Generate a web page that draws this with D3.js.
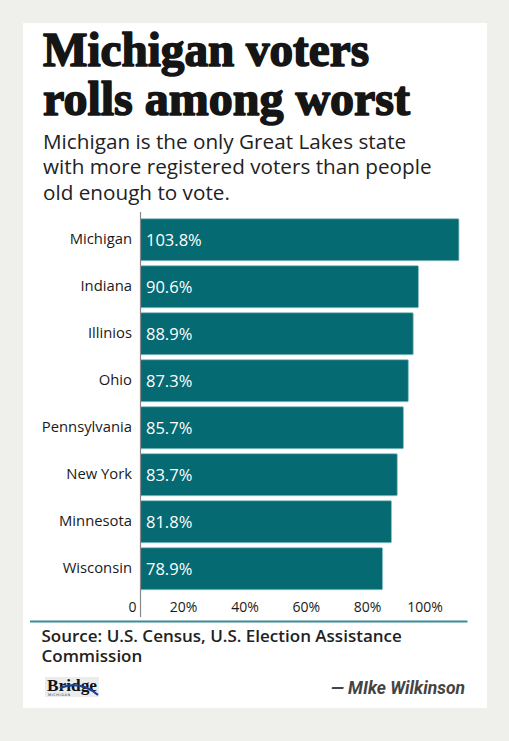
<!DOCTYPE html>
<html><head><meta charset="utf-8">
<script src="https://cdn.jsdelivr.net/npm/d3@7"></script>
<style>
html,body{margin:0;padding:0;background:#efefeb;}
svg{display:block;}
</style></head>
<body>
<script>
const categories = ["Michigan","Indiana","Illinios","Ohio","Pennsylvania","New York","Minnesota","Wisconsin"];
const values = [103.8, 90.6, 88.9, 87.3, 85.7, 83.7, 81.8, 78.9];
const tickValues = [0, 20, 40, 60, 80, 100];
const tickLabels = ["0", "20%", "40%", "60%", "80%", "100%"];
const titleLines = ["Michigan voters", "rolls among worst"];
const subtitleLines = ["Michigan is the only Great Lakes state", "with more registered voters than people", "old enough to vote."];
const sourceLines = ["Source: U.S. Census, U.S. Election Assistance", "Commission"];
const byline = "— MIke Wilkinson";

const W = 509, H = 741;
const svg = d3.select("body").append("svg").attr("width", W).attr("height", H);

svg.append("rect").attr("width", W).attr("height", H).attr("fill", "#efefeb");
svg.append("rect").attr("x", 23).attr("y", 23).attr("width", 464).attr("height", 685).attr("fill", "#fff");

// Title
const titleBase = [66, 115], titleW = [326, 367];
svg.selectAll("text.title").data(titleLines).enter().append("text")
  .attr("class", "title")
  .attr("x", 43).attr("y", (d, i) => titleBase[i])
  .attr("textLength", (d, i) => titleW[i]).attr("lengthAdjust", "spacingAndGlyphs")
  .attr("font-family", "'Liberation Serif', 'DejaVu Serif', serif")
  .attr("font-weight", "bold").attr("font-size", 48)
  .attr("fill", "#151515").attr("stroke", "#151515").attr("stroke-width", 1.6)
  .attr("stroke-linejoin", "round")
  .text(d => d);

// Subtitle
const subBase = [148.5, 174, 199.5];
svg.selectAll("text.sub").data(subtitleLines).enter().append("text")
  .attr("class", "sub")
  .attr("x", 43).attr("y", (d, i) => subBase[i])
  .attr("font-family", "'Open Sans', sans-serif").attr("font-size", 20.7)
  .attr("fill", "#222").text(d => d);

// Scales
const x = d3.scaleLinear().domain([0, 100]).range([140.5, 140.5 + 306.8]);
const y = d3.scaleBand().domain(categories).range([216.2, 592.2]).paddingInner(0.106).paddingOuter(0.053);

// Bars
svg.selectAll("rect.bar").data(values).enter().append("rect")
  .attr("class", "bar")
  .attr("x", x(0))
  .attr("y", (d, i) => y(categories[i]))
  .attr("width", d => x(d) - x(0))
  .attr("height", y.bandwidth())
  .attr("fill", "#066a72")
  .attr("stroke", "#8fc3c8").attr("stroke-width", 0.8)
  .attr("rx", 1);

// Value labels
svg.selectAll("text.val").data(values).enter().append("text")
  .attr("class", "val")
  .attr("x", x(0) + 5.5)
  .attr("y", (d, i) => y(categories[i]) + y.bandwidth() / 2)
  .attr("dy", "0.36em")
  .attr("font-family", "'Open Sans', sans-serif").attr("font-size", 16.5)
  .attr("fill", "#fff").text(d => d.toFixed(1) + "%");

// Category axis (labels only)
const yAxis = d3.axisLeft(y).tickSize(0).tickPadding(8.5);
const gy = svg.append("g").attr("transform", `translate(${x(0)},0)`).call(yAxis);
gy.select(".domain").remove();
gy.selectAll("text").attr("font-family", "'Open Sans', sans-serif").attr("font-size", 14.8).attr("fill", "#1a1a1a");

// Vertical axis line
svg.append("line").attr("x1", x(0)).attr("x2", x(0)).attr("y1", 212).attr("y2", 617)
  .attr("stroke", "#888").attr("stroke-width", 1.2);

// X axis tick labels
const xAxis = d3.axisBottom(x).tickValues(tickValues).tickSize(0).tickPadding(0)
  .tickFormat((d, i) => tickLabels[i]);
const gx = svg.append("g").attr("transform", "translate(0,600)").call(xAxis);
gx.select(".domain").remove();
gx.selectAll("text")
  .attr("text-anchor", "end")
  .attr("dx", d => d === 0 ? -4.5 : -5)
  .attr("dy", "0.84em")
  .attr("y", 0)
  .attr("font-family", "'Open Sans', sans-serif").attr("font-size", 14).attr("fill", "#1a1a1a");

// Teal rule
svg.append("line").attr("x1", 30).attr("x2", 467.5).attr("y1", 621.5).attr("y2", 621.5)
  .attr("stroke", "#3b8b96").attr("stroke-width", 2);

// Source
const srcBase = [642, 661.5];
svg.selectAll("text.src").data(sourceLines).enter().append("text")
  .attr("class", "src")
  .attr("x", 41.5).attr("y", (d, i) => srcBase[i])
  .attr("font-family", "'Open Sans', sans-serif").attr("font-weight", 600).attr("font-size", 17)
  .attr("fill", "#222").text(d => d);

// Byline
svg.append("text").attr("x", 465).attr("y", 694).attr("text-anchor", "end")
  .attr("font-family", "Roboto, sans-serif").attr("font-weight", "bold").attr("font-style", "italic")
  .attr("font-size", 17.5).attr("fill", "#444").text(byline);

// Logo
const logo = svg.append("g");
logo.append("rect").attr("x", 45).attr("y", 677).attr("width", 54).attr("height", 20).attr("fill", "#ececec");
logo.append("text").attr("x", 47).attr("y", 691).attr("font-family", "'Liberation Serif', serif")
  .attr("font-weight", "bold").attr("font-size", 16).attr("fill", "#111")
  .attr("textLength", 50).attr("lengthAdjust", "spacingAndGlyphs").text("Bridge");
logo.append("path").attr("d", "M60,688 Q80,680 98,695").attr("fill", "none")
  .attr("stroke", "#1b3f93").attr("stroke-width", 2.2);
logo.append("text").attr("x", 48).attr("y", 696).attr("font-family", "'DejaVu Sans', sans-serif")
  .attr("font-size", 3.5).attr("fill", "#333").attr("letter-spacing", 0.6).text("MICHIGAN");
</script>
</body></html>
